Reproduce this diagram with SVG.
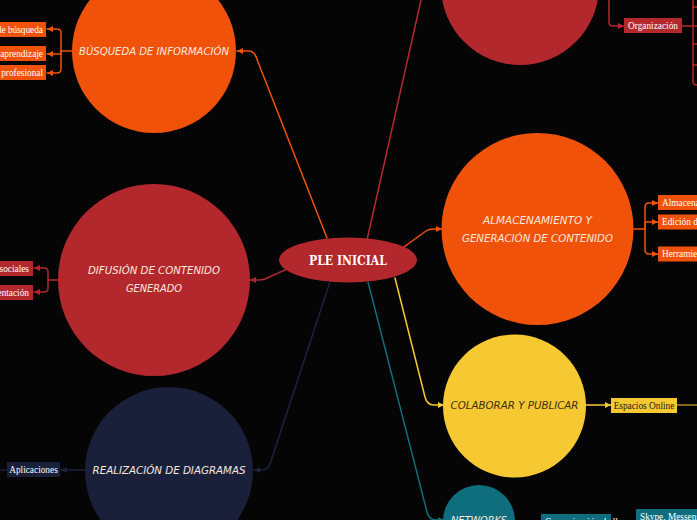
<svg xmlns="http://www.w3.org/2000/svg" width="697" height="520" viewBox="0 0 697 520">
<defs>
<style>
.lbl{font-family:"DejaVu Sans",sans-serif;font-style:oblique;font-size:10px;fill:#fbe8df;text-anchor:middle}
.box{font-family:"Liberation Serif",serif;font-size:9.3px;fill:#ffffff}
.c{fill:none;stroke-width:1.5;stroke-linejoin:round;stroke-linecap:round}
.o{stroke:#f0520a}.r{stroke:#b3282d}.n{stroke:#1c2240}.y{stroke:#f6c932}.t{stroke:#0f6e7d}
</style>
<marker id="mO" viewBox="0 0 6 6" refX="6" refY="3" markerWidth="6" markerHeight="6" markerUnits="userSpaceOnUse" orient="auto"><path d="M0,0L6,3L0,6z" fill="#f0520a"/></marker>
<marker id="mR" viewBox="0 0 6 6" refX="6" refY="3" markerWidth="6" markerHeight="6" markerUnits="userSpaceOnUse" orient="auto"><path d="M0,0L6,3L0,6z" fill="#b3282d"/></marker>
<marker id="mN" viewBox="0 0 6 6" refX="6" refY="3" markerWidth="6" markerHeight="6" markerUnits="userSpaceOnUse" orient="auto"><path d="M0,0L6,3L0,6z" fill="#1c2240"/></marker>
<marker id="mY" viewBox="0 0 6 6" refX="6" refY="3" markerWidth="6" markerHeight="6" markerUnits="userSpaceOnUse" orient="auto"><path d="M0,0L6,3L0,6z" fill="#f6c932"/></marker>
<marker id="mT" viewBox="0 0 6 6" refX="6" refY="3" markerWidth="6" markerHeight="6" markerUnits="userSpaceOnUse" orient="auto"><path d="M0,0L6,3L0,6z" fill="#0f6e7d"/></marker>
</defs>
<rect width="697" height="520" fill="#050505"/>

<g id="connectors">
<path class="c o" d="M327,238 L258,62 Q255,51 249,51 L237,51" marker-end="url(#mO)"/>
<path class="c r" d="M367,240 L421,0"/>
<path class="c o" d="M404,247 L426,231 Q429,229 433,229 L442,229" marker-end="url(#mO)"/>
<path class="c r" d="M287,269 L265,279 Q262,280 258,280 L250,280" marker-end="url(#mR)"/>
<path class="c n" d="M330,282 L270,464 Q268,470 262,470 L254,470" marker-end="url(#mN)"/>
<path class="c y" d="M395,278 L425,397 Q427,405 434,405 L444,405" marker-end="url(#mY)"/>
<path class="c t" d="M368,282 L427,512 Q429,520 436,520 L444,520" marker-end="url(#mT)"/>
<path class="c o" d="M72,51 L61,51"/>
<path class="c o" d="M61,51 L61,33 Q61,29 57,29 L47,29" marker-end="url(#mO)"/>
<path class="c o" d="M61,51 L61,54 L47,54" marker-end="url(#mO)"/>
<path class="c o" d="M61,51 L61,69 Q61,73 57,73 L47,73" marker-end="url(#mO)"/>
<path class="c r" d="M58,280 L48,280"/>
<path class="c r" d="M48,280 L48,272 Q48,268 44,268 L34,268" marker-end="url(#mR)"/>
<path class="c r" d="M48,280 L48,288 Q48,292 44,292 L34,292" marker-end="url(#mR)"/>
<path class="c n" d="M85,470 L61,470" marker-end="url(#mN)"/>
<path class="c n" d="M7,470 L0,470"/>
<path class="c r" d="M609,0 L609,22 Q609,26 613,26 L624,26" marker-end="url(#mR)"/>
<path class="c r" d="M682,26 L697,26"/>
<path class="c r" d="M693,0 L693,81 Q693,85 697,85"/>
<path class="c r" d="M693,44 L697,44"/>
<path class="c r" d="M693,65 L697,65"/>
<path class="c r" d="M693,7 L697,7"/>
<path class="c o" d="M633,229 L645,229"/>
<path class="c o" d="M645,229 L645,207 Q645,203 649,203 L658,203" marker-end="url(#mO)"/>
<path class="c o" d="M645,229 L645,222 L658,222" marker-end="url(#mO)"/>
<path class="c o" d="M645,229 L645,250 Q645,254 649,254 L658,254" marker-end="url(#mO)"/>
<path class="c y" d="M586,405 L611,405" marker-end="url(#mY)"/>
<path class="c y" d="M677,405 L697,405" style="stroke-width:1"/>
</g>

<g id="node-ple">
<ellipse cx="348" cy="260" rx="69" ry="22.5" fill="#b3282d"/>
<text x="348" y="265" text-anchor="middle" font-family="DejaVu Serif,serif" font-weight="bold" font-size="13" fill="#ffffff" textLength="78" lengthAdjust="spacingAndGlyphs">PLE INICIAL</text>
</g>

<g id="node-busqueda">
<circle cx="154" cy="51" r="82" fill="#f0520a"/>
<text class="lbl" x="154" y="55" textLength="150" lengthAdjust="spacingAndGlyphs">BÚSQUEDA DE INFORMACIÓN</text>
</g>
<g id="box-busqueda-1"><rect x="-2" y="22" width="48" height="15" fill="#f0520a"/><text class="box" x="43" y="32.5" text-anchor="end">de búsqueda</text></g>
<g id="box-busqueda-2"><rect x="-2" y="46" width="48" height="15" fill="#f0520a"/><text class="box" x="43" y="56.5" text-anchor="end">aprendizaje</text></g>
<g id="box-busqueda-3"><rect x="-2" y="65" width="48" height="15" fill="#f0520a"/><text class="box" x="43" y="75.5" text-anchor="end">profesional</text></g>

<g id="node-top-red">
<circle cx="520" cy="-14" r="79" fill="#b3282d"/>
</g>
<g id="box-organizacion"><rect x="624" y="18" width="58" height="15" fill="#b3282d"/><text class="box" x="653" y="28.5" text-anchor="middle">Organización</text></g>

<g id="node-almacenamiento">
<circle cx="537.5" cy="229" r="96" fill="#f0520a"/>
<text class="lbl" x="537.5" y="224" textLength="109" lengthAdjust="spacingAndGlyphs">ALMACENAMIENTO Y</text>
<text class="lbl" x="537.5" y="242" textLength="151" lengthAdjust="spacingAndGlyphs">GENERACIÓN DE CONTENIDO</text>
</g>
<g id="box-alm-1"><rect x="658" y="195" width="45" height="15" fill="#f0520a"/><text class="box" x="662" y="205.5">Almacena</text></g>
<g id="box-alm-2"><rect x="658" y="214.5" width="45" height="15" fill="#f0520a"/><text class="box" x="662" y="225">Edición d</text></g>
<g id="box-alm-3"><rect x="658" y="246.5" width="45" height="15" fill="#f0520a"/><text class="box" x="662" y="257">Herramie</text></g>

<g id="node-difusion">
<circle cx="154" cy="280" r="96" fill="#b3282d"/>
<text class="lbl" x="154" y="274" textLength="132" lengthAdjust="spacingAndGlyphs">DIFUSIÓN DE CONTENIDO</text>
<text class="lbl" x="154" y="292" textLength="56" lengthAdjust="spacingAndGlyphs">GENERADO</text>
</g>
<g id="box-dif-1"><rect x="-2" y="261" width="35" height="15" fill="#b3282d"/><text class="box" x="29" y="271.5" text-anchor="end">sociales</text></g>
<g id="box-dif-2"><rect x="-2" y="285" width="35" height="15" fill="#b3282d"/><text class="box" x="29" y="295.5" text-anchor="end">entación</text></g>

<g id="node-diagramas">
<circle cx="169" cy="471" r="84" fill="#1a1f3a"/>
<text class="lbl" x="169" y="474" textLength="153" lengthAdjust="spacingAndGlyphs">REALIZACIÓN DE DIAGRAMAS</text>
</g>
<g id="box-aplicaciones"><rect x="7" y="462" width="53" height="15" fill="#1a1f3a"/><text class="box" x="33.5" y="472.5" text-anchor="middle">Aplicaciones</text></g>

<g id="node-colaborar">
<circle cx="514.5" cy="406" r="71.5" fill="#f6c932"/>
<text class="lbl" x="514.5" y="409" style="fill:#3a2e10" textLength="128" lengthAdjust="spacingAndGlyphs">COLABORAR Y PUBLICAR</text>
</g>
<g id="box-espacios"><rect x="611" y="398" width="66" height="15" fill="#f6c932"/><text class="box" x="644" y="408.5" text-anchor="middle" style="fill:#1a1a1a">Espacios Online</text></g>

<g id="node-networks">
<circle cx="479" cy="521" r="36" fill="#0f6e7d"/>
<text class="lbl" x="479" y="524" font-size="11" textLength="56" lengthAdjust="spacingAndGlyphs">NETWORKS</text>
</g>
<g id="box-net-1"><rect x="541" y="514" width="70" height="15" fill="#0f6e7d"/><text class="box" x="545" y="524.5">Comunicación de ll</text></g>
<g id="box-net-2"><rect x="636" y="509" width="65" height="15" fill="#0f6e7d"/><text class="box" x="640" y="519.5">Skype, Messeng</text></g>
</svg>
